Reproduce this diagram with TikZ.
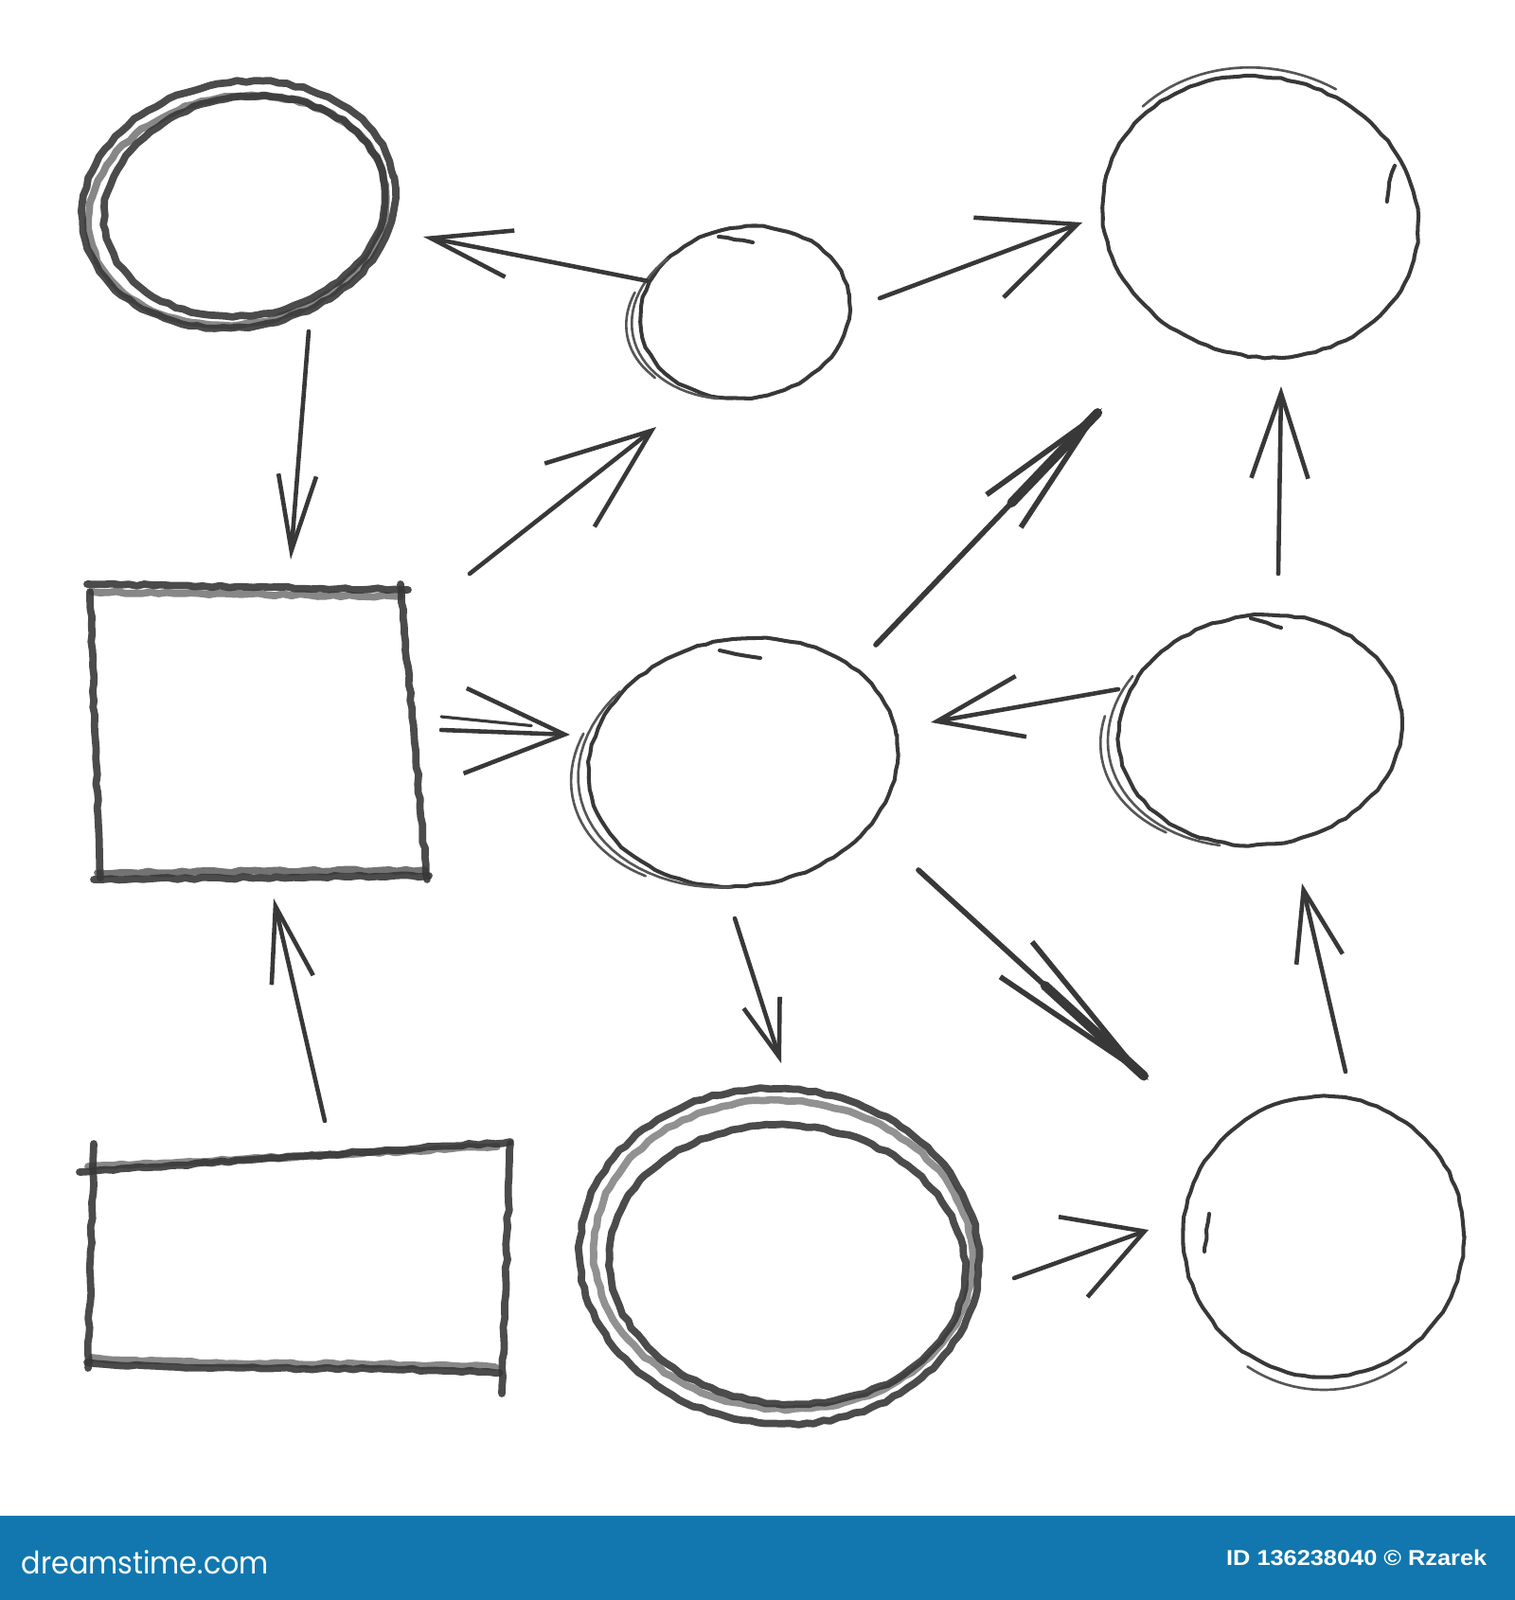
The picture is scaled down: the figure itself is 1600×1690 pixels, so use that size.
\documentclass[tikz,border=0pt]{standalone}
\usepackage{graphicx}
\usepackage{fontspec}
\setmainfont{Liberation Sans}
\newfontfamily\logofont{Poppins}
\usetikzlibrary{shapes.geometric,arrows.meta,decorations.pathmorphing,calc}
\definecolor{ink}{HTML}{383838}
\definecolor{barblue}{HTML}{1177AE}
\begin{document}
\begin{tikzpicture}[x=0.01cm,y=-0.01cm,
  blob/.style={inner sep=0pt, outer sep=0pt},
  oval/.style={blob, ellipse},
  box/.style={blob, rectangle},
  pencil/.style={draw=ink, line width=1.15pt, line cap=round, line join=round,
     decorate, decoration={random steps, segment length=2.5pt, amplitude=0.25pt}},
  thinpencil/.style={pencil, line width=0.75pt, draw=ink!85},
  crayon/.style={draw=ink, line width=2.2pt, line cap=round, line join=round, opacity=0.9,
     decorate, decoration={random steps, segment length=2.5pt, amplitude=0.35pt}},
  arr/.style={draw=ink, line width=1.3pt, line cap=round, line join=round},
  head/.style 2 args={arrows={-{Straight Barb[length=#1,width=#2]}}}
]
\useasboundingbox (0,0) rectangle (1600,1690);
\fill[white] (0,0) rectangle (1600,1690);

% ---------- nodes ----------
\node[oval, minimum width=3.34cm, minimum height=2.62cm, rotate=10] (tl) at (252,216) {};
\node[oval, minimum width=2.24cm, minimum height=1.82cm, rotate=10] (tm) at (787,330) {};
\node[oval, minimum width=3.40cm, minimum height=3.02cm, rotate=-15] (tr) at (1331,229) {};
\node[box, minimum width=3.56cm, minimum height=3.10cm] (sq) at (273,775) {};
\node[oval, minimum width=3.36cm, minimum height=2.70cm, rotate=10] (cc) at (785,805) {};
\node[oval, minimum width=3.08cm, minimum height=2.48cm, rotate=8] (rm) at (1331,771) {};
\node[box, minimum width=4.47cm, minimum height=2.67cm] (bl) at (315,1338) {};
\node[oval, minimum width=4.24cm, minimum height=3.56cm, rotate=-5] (bm) at (823,1327) {};
\node[oval, minimum width=2.96cm, minimum height=2.98cm] (br) at (1398,1306) {};

% ---------- sketch strokes ----------
% top-left ellipse (several crayon rings)
\begin{scope}[shift={(tl.center)}, rotate=10]
  \draw[crayon] (0,0) ellipse [x radius=1.66cm, y radius=1.29cm];
  \draw[crayon] (6,3) ellipse [x radius=1.49cm, y radius=1.15cm];
  \draw[crayon, opacity=0.6] (-2,6) ellipse [x radius=1.58cm, y radius=1.20cm];
\end{scope}
% top-middle circle
\begin{scope}[shift={(tm.center)}, rotate=10]
  \draw[pencil] (0,0) ellipse [x radius=1.11cm, y radius=0.90cm];
  \draw[thinpencil] plot[domain=125:250, samples=30] ({-4+117*cos(\x)}, {2-88*sin(\x)});
  \draw[thinpencil] plot[domain=150:215, samples=20] ({-8+119*cos(\x)}, {2-86*sin(\x)});
\end{scope}
\draw[pencil] ([shift={(-28,-80)}]tm.center) -- ([shift={(8,-74)}]tm.center);
% top-right ellipse
\begin{scope}[shift={(tr.center)}, rotate=-15]
  \draw[pencil] (0,0) ellipse [x radius=1.68cm, y radius=1.47cm];
  \draw[thinpencil] plot[domain=75:150, samples=25] ({-2+171*cos(\x)}, {-5-151*sin(\x)});
\end{scope}
\draw[pencil] ([shift={(142,-54)}]tr.center) .. controls ([shift={(136,-36)}]tr.center) .. ([shift={(134,-16)}]tr.center);
% left square
\begin{scope}[shift={(sq.center)}]
  \draw[crayon] (-181,-158) -- (158,-152);
  \draw[crayon, opacity=0.6] (-176,-150) -- (150,-145);
  \draw[crayon] (150,-158) -- (178,154);
  \draw[crayon] (-174,154) -- (180,150);
  \draw[crayon, opacity=0.7] (-170,147) -- (176,144);
  \draw[crayon] (-178,-150) -- (-167,152);
\end{scope}
% centre circle
\begin{scope}[shift={(cc.center)}, rotate=10]
  \draw[pencil] (0,0) ellipse [x radius=1.64cm, y radius=1.30cm];
  \draw[thinpencil] plot[domain=130:260, samples=30] ({-6+170*cos(\x)}, {2-128*sin(\x)});
  \draw[thinpencil] plot[domain=150:230, samples=25] ({-12+172*cos(\x)}, {4-126*sin(\x)});
\end{scope}
\draw[pencil] ([shift={(-25,-118)}]cc.center) -- ([shift={(18,-110)}]cc.center);
% right-middle circle
\begin{scope}[shift={(rm.center)}, rotate=8]
  \draw[pencil] (0,0) ellipse [x radius=1.50cm, y radius=1.21cm];
  \draw[thinpencil] plot[domain=140:250, samples=30] ({-6+156*cos(\x)}, {2-120*sin(\x)});
  \draw[thinpencil] plot[domain=160:230, samples=20] ({-12+158*cos(\x)}, {3-118*sin(\x)});
\end{scope}
\draw[pencil] ([shift={(-10,-118)}]rm.center) -- ([shift={(22,-108)}]rm.center);
% bottom-left rectangle
\begin{scope}[shift={(bl.center)}]
  \draw[crayon] (-231,-100) -- (224,-132);
  \draw[crayon, opacity=0.6] (-222,-106) -- (210,-127);
  \draw[crayon] (-216,-130) -- (-222,107);
  \draw[crayon] (-223,101) .. controls (-80,112) and (60,104) .. (213,112);
  \draw[crayon, opacity=0.6] (-218,96) .. controls (-60,106) and (80,100) .. (208,106);
  \draw[crayon] (224,-130) -- (215,134);
\end{scope}
% bottom-middle ellipse (crayon rings)
\begin{scope}[shift={(bm.center)}, rotate=-5]
  \draw[crayon] (0,0) ellipse [x radius=2.11cm, y radius=1.77cm];
  \draw[crayon] (9,8) ellipse [x radius=1.88cm, y radius=1.47cm];
  \draw[crayon, opacity=0.55] (4,-2) ellipse [x radius=2.00cm, y radius=1.63cm];
\end{scope}
% bottom-right circle
\begin{scope}[shift={(br.center)}]
  \draw[pencil] (0,0) ellipse [x radius=1.48cm, y radius=1.48cm];
  \draw[thinpencil] plot[domain=238:305, samples=25] ({152*cos(\x)}, {-162*sin(\x)});
\end{scope}
\draw[pencil] ([shift={(-121,-24)}]br.center) -- ([shift={(-126,16)}]br.center);

% ---------- arrow end points ----------
\coordinate (a1) at ([shift={(-102,-33)}]tm.center);
\coordinate (a2) at ([shift={(195,34)}]tl.center);
\coordinate (b1) at ([shift={(142,-15)}]tm.center);
\coordinate (b2) at ([shift={(-188,6)}]tr.center);
\coordinate (c1) at ([shift={(74,134)}]tl.center);
\coordinate (c2) at ([shift={(34,-184)}]sq.center);
\coordinate (d1) at ([shift={(223,-169)}]sq.center);
\coordinate (d2) at ([shift={(-94,121)}]tm.center);
\coordinate (e1) at ([shift={(140,-124)}]cc.center);
\coordinate (e2) at ([shift={(-167,202)}]tr.center);
\coordinate (f1) at ([shift={(19,-165)}]rm.center);
\coordinate (f2) at ([shift={(22,179)}]tr.center);
\coordinate (g1) at ([shift={(193,-4)}]sq.center);
\coordinate (g2) at ([shift={(-183,-29)}]cc.center);
\coordinate (h1) at ([shift={(-150,-43)}]rm.center);
\coordinate (h2) at ([shift={(198,-42)}]cc.center);
\coordinate (i1) at ([shift={(28,-154)}]bl.center);
\coordinate (i2) at ([shift={(16,174)}]sq.center);
\coordinate (j1) at ([shift={(-9,165)}]cc.center);
\coordinate (j2) at ([shift={(2,-204)}]bm.center);
\coordinate (k1) at ([shift={(185,114)}]cc.center);
\coordinate (k2) at ([shift={(-185,-165)}]br.center);
\coordinate (l1) at ([shift={(23,-174)}]br.center);
\coordinate (l2) at ([shift={(44,162)}]rm.center);
\coordinate (m1) at ([shift={(248,23)}]bm.center);
\coordinate (m2) at ([shift={(-185,-7)}]br.center);

% ---------- arrows ----------
\draw[arr, head={8.5mm}{5mm}] (a1) -- (a2);
\draw[arr, head={10mm}{9mm}] (b1) -- (b2);
\draw[arr, head={8mm}{4mm}] (c1) -- (c2);
\draw[arr, head={11mm}{8.5mm}] (d1) -- (d2);
\draw[arr, line width=1.6pt, head={13.5mm}{5mm}] (e1) -- (e2);
\draw[arr, line width=2.8pt] ($(e1)!0.6!(e2)$) -- ($(e1)!0.98!(e2)$);
\draw[arr, head={9mm}{6mm}] (f1) -- (f2);
\draw[arr, head={10.5mm}{9mm}] (g1) -- (g2);
\draw[arr, line width=0.9pt] ($(g1)+(0,-14)$) -- ($(g1)!0.7!(g2)+(0,-8)$);
\draw[arr, head={9mm}{6.5mm}] (h1) -- (h2);
\draw[arr, head={8mm}{4.5mm}] (i1) -- (i2);
\draw[arr, head={6mm}{4mm}] (j1) -- (j2);
\draw[arr, line width=1.6pt, head={17mm}{5mm}] (k1) -- (k2);
\draw[arr, line width=2.8pt] ($(k1)!0.55!(k2)$) -- ($(k1)!0.98!(k2)$);
\draw[arr, head={7.5mm}{5mm}] (l1) -- (l2);
\draw[arr, head={8mm}{9mm}] (m1) -- (m2);

% ---------- bottom bar ----------
\fill[barblue] (0,1601) rectangle (1600,1690);
\node[anchor=base west, text=white, inner sep=0pt] (logo) at (22,1662)
  {\resizebox{2.61cm}{0.25cm}{\logofont dreamstime.com}};
\node[anchor=base east, text=white, inner sep=0pt] (credit) at (1571,1653)
  {\resizebox{2.75cm}{0.165cm}{\bfseries ID 136238040 © Rzarek}};
\end{tikzpicture}
\end{document}
